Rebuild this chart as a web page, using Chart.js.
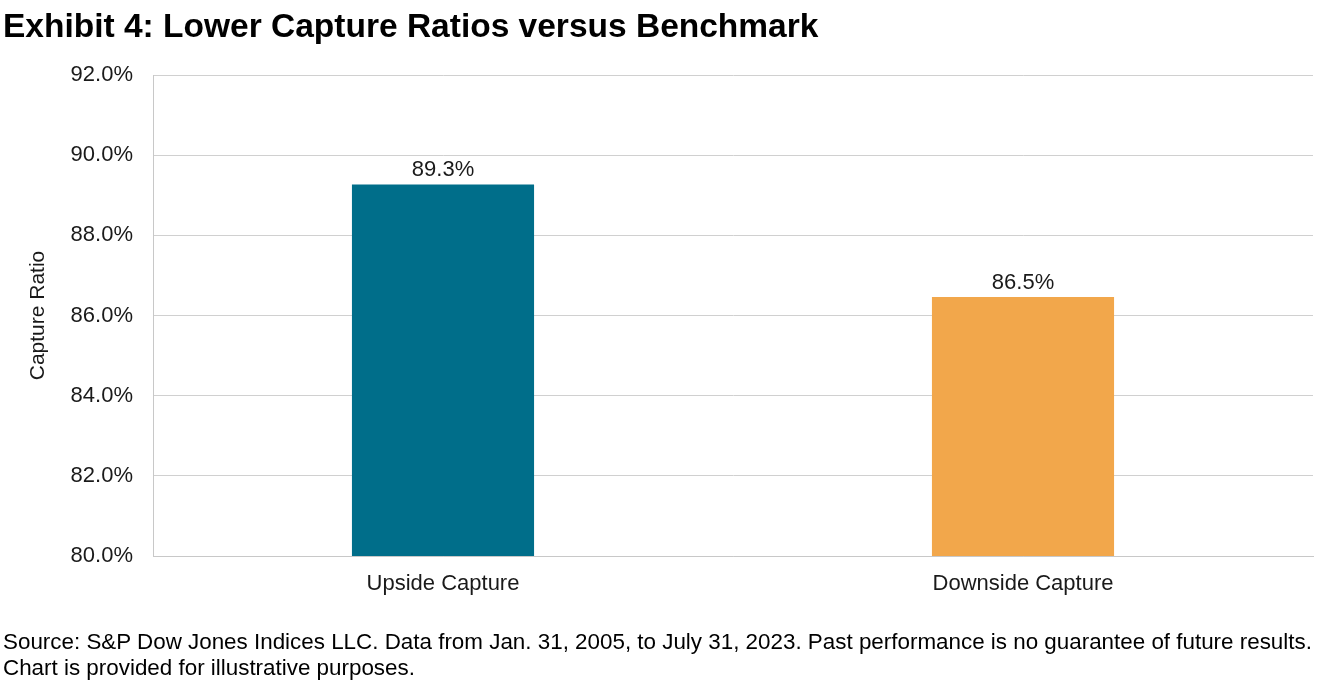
<!DOCTYPE html>
<html>
<head>
<meta charset="utf-8">
<script src="https://cdn.jsdelivr.net/npm/chart.js@4"></script>
<style>
  body { margin: 0; background: #fff; }
  #wrap { position: relative; width: 1323px; height: 687px; }
  #title { position: absolute; left: 3px; top: 7px; font: bold 33.5px "Liberation Sans", Arial, sans-serif; color: #000; }
  #note { position: absolute; left: 3px; top: 629px; font: 22.4px "Liberation Sans", Arial, sans-serif; color: #000; line-height: 26px; white-space: nowrap; }
  canvas { position: absolute; left: 0; top: 0; }
</style>
</head>
<body>
<div id="wrap">
  <canvas id="myChart" width="1323" height="687"></canvas>
  <div id="title">Exhibit 4: Lower Capture Ratios versus Benchmark</div>
  <div id="note">Source: S&amp;P Dow Jones Indices LLC. Data from Jan. 31, 2005, to July 31, 2023. Past performance is no guarantee of future results.<br>Chart is provided for illustrative purposes.</div>
</div>
<script>
const categories = ["Upside Capture", "Downside Capture"];
const captureValues = [89.27, 86.46];
const barColors = ["#006e8a", "#f2a74b"];
const yTicks = [80, 82, 84, 86, 88, 90, 92];

const fontFamily = '"Liberation Sans", Arial, sans-serif';

// writes the value over each bar
const valueLabels = {
  id: "valueLabels",
  afterDatasetsDraw(chart) {
    const ctx = chart.ctx;
    const meta = chart.getDatasetMeta(0);
    ctx.save();
    ctx.font = "22px " + fontFamily;
    ctx.fillStyle = "#1a1a1a";
    ctx.textAlign = "center";
    ctx.textBaseline = "bottom";
    meta.data.forEach((bar, i) => {
      ctx.fillText(captureValues[i].toFixed(1) + "%", bar.x, bar.y - 3);
    });
    ctx.restore();
  }
};

const ctx = document.getElementById("myChart");

new Chart(ctx, {
  type: "bar",
  data: {
    labels: categories,
    datasets: [{
      data: captureValues,
      backgroundColor: barColors,
      barPercentage: 0.314,
      categoryPercentage: 1
    }]
  },
  options: {
    responsive: false,
    animation: false,
    layout: { padding: { top: 75, right: 10, bottom: 81, left: 0 } },
    plugins: {
      legend: { display: false },
      tooltip: { enabled: false }
    },
    scales: {
      x: {
        grid: { display: false },
        border: { display: true, color: "#c8c8c8" },
        ticks: { color: "#1a1a1a", font: { family: fontFamily, size: 22 }, padding: 7 },
        afterFit(scale) { scale.height = 50; }
      },
      y: {
        min: 80,
        max: 92,
        afterBuildTicks(scale) { scale.ticks = yTicks.map(v => ({ value: v })); },
        grid: { color: "#d0d0d0", drawTicks: false },
        border: { display: true, color: "#c8c8c8" },
        ticks: {
          color: "#1a1a1a",
          font: { family: fontFamily, size: 22 },
          padding: 20,
          callback: v => v.toFixed(1) + "%"
        },
        title: {
          display: true,
          text: "Capture Ratio",
          color: "#1a1a1a",
          font: { family: fontFamily, size: 21 },
          padding: { top: 26, bottom: 0 }
        },
        afterFit(scale) { scale.width = 153; }
      }
    }
  },
  plugins: [valueLabels]
});
</script>
</body>
</html>
